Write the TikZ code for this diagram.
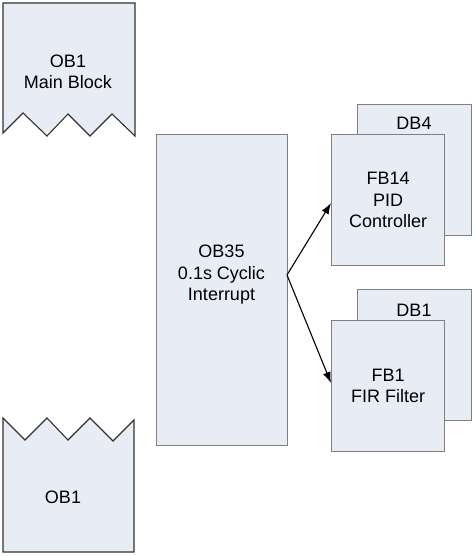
\documentclass[tikz,border=0pt]{standalone}
\usepackage{fontspec}
\setmainfont{Liberation Sans}
\usetikzlibrary{arrows.meta}
\definecolor{boxfill}{RGB}{232,237,245}
\definecolor{boxline}{RGB}{128,128,128}
\definecolor{obline}{RGB}{50,50,50}
\begin{document}
\begin{tikzpicture}[x=1pt,y=-1pt,
  blk/.style={draw=boxline,fill=boxfill,line width=1.1pt,rectangle,inner sep=0pt,anchor=north west},
  obshape/.style={draw=obline,fill=boxfill,line width=1.1pt,line join=miter},
  lbl/.style={font=\fontsize{18}{21.5}\selectfont,align=center,inner sep=0pt},
  conn/.style={line width=1.1pt,-{Latex[length=11pt,width=8pt]}}]
\useasboundingbox (0,0) rectangle (474,556);
% OB1 top
\draw[obshape] (3,3) -- (135,3) -- (135,136) -- (112,114) -- (90,136) -- (68,114) -- (47,136) -- (23,113) -- (3,133) -- cycle;
\node[lbl] (ob1top) at (68,72) {OB1\\Main Block};
% OB1 bottom
\draw[obshape] (3,418) -- (25,440) -- (47,418) -- (68,440) -- (90,418) -- (113,441) -- (134,420) -- (134,552) -- (3,552) -- cycle;
\node[lbl] (ob1bot) at (63,497) {OB1};
% OB35
\node[blk,minimum width=131pt,minimum height=311pt] (ob35) at (156,134) {};
\node[lbl] (ob35t) at (221.5,275) {OB35\\0.1s Cyclic\\Interrupt};
% DB4 and FB14
\node[blk,minimum width=114pt,minimum height=131pt] (db4) at (357,104) {};
\node[lbl] (db4t) at (414,123) {DB4};
\node[blk,minimum width=113pt,minimum height=131pt] (fb14) at (331,134) {};
\node[lbl] (fb14t) at (fb14.center) {FB14\\PID\\Controller};
% DB1 and FB1
\node[blk,minimum width=114pt,minimum height=131pt] (db1) at (357,289) {};
\node[lbl] (db1t) at (414,310) {DB1};
\node[blk,minimum width=113pt,minimum height=131pt] (fb1) at (331,320) {};
\node[lbl] (fb1t) at (fb1.center) {FB1\\FIR Filter};
% connectors
\coordinate (src) at (287,275);
\draw[conn] (src) -- ([yshift=-3pt]fb14.west);
\draw[conn] (src) -- ([yshift=3pt]fb1.west);
\end{tikzpicture}
\end{document}
